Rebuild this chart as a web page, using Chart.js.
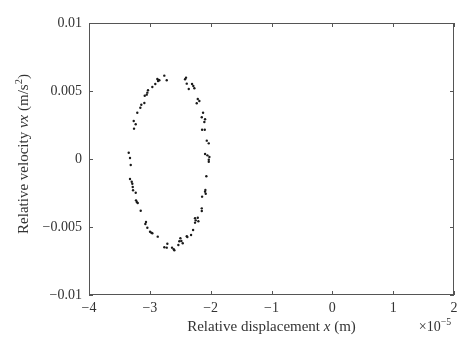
<!DOCTYPE html>
<html>
<head>
<meta charset="utf-8">
<script src="https://cdn.jsdelivr.net/npm/chart.js"></script>
<style>
  html, body { margin: 0; padding: 0; background: #fff; }
  #wrap { width: 474px; height: 353px; }
</style>
</head>
<body>
<div id="wrap"><canvas id="phaseChart" width="474" height="353"></canvas></div>
<script>
// x values are in units of 1e-5 m (axis shows x10^-5), y values in m/s
const dispX = [
  -2.762, -2.722, -2.877, -2.854, -2.844, -2.865, -2.910, -2.959, -3.030, -3.041,
  -3.051, -3.084, -3.090, -3.140, -3.156, -3.206, -3.265, -3.232, -3.260, -3.347,
  -3.326, -3.314, -3.326, -3.298, -3.288, -3.281, -3.276, -3.232, -3.227, -3.215,
  -3.199, -3.150, -3.063, -3.074, -3.041, -2.997, -2.975, -2.959, -2.870, -2.762,
  -2.722, -2.712, -2.635, -2.607, -2.597, -2.531, -2.515, -2.498, -2.482, -2.459,
  -2.393, -2.383, -2.322, -2.289, -2.257, -2.245, -2.202, -2.212, -2.257, -2.146,
  -2.146, -2.141, -2.092, -2.087, -2.081, -2.071, -2.092, -2.054, -2.021, -2.031,
  -2.031, -2.405, -2.421, -2.393, -2.306, -2.285, -2.268, -2.360, -2.212, -2.186,
  -2.229, -2.125, -2.146, -2.092, -2.104, -2.141, -2.097, -2.064, -2.031
];
const velY = [
  0.00613, 0.00579, 0.00588, 0.00581, 0.00579, 0.00574, 0.00552, 0.00529, 0.00505, 0.00488,
  0.00473, 0.00465, 0.00412, 0.00399, 0.00377, 0.00340, 0.00279, 0.00255, 0.00223, 0.00046,
  0.00007, -0.00044, -0.00147, -0.00167, -0.00182, -0.00206, -0.00230, -0.00248, -0.00304, -0.00316,
  -0.00324, -0.00380, -0.00463, -0.00478, -0.00505, -0.00535, -0.00542, -0.00546, -0.00571, -0.00649,
  -0.00652, -0.00623, -0.00652, -0.00664, -0.00671, -0.00632, -0.00605, -0.00583, -0.00603, -0.00620,
  -0.00568, -0.00574, -0.00559, -0.00522, -0.00468, -0.00451, -0.00458, -0.00432, -0.00436, -0.00363,
  -0.00382, -0.00277, -0.00240, -0.00228, -0.00255, -0.00127, 0.00037, 0.00027, 0.00015, -0.00005,
  -0.00020, 0.00598, 0.00586, 0.00554, 0.00552, 0.00537, 0.00520, 0.00515, 0.00441, 0.00427,
  0.00410, 0.00340, 0.00307, 0.00292, 0.00272, 0.00215, 0.00215, 0.00135, 0.00115
];
const xTicks = [-4, -3, -2, -1, 0, 1, 2];
const yTicks = [-0.01, -0.005, 0, 0.005, 0.01];

const SERIF = "'Liberation Serif', 'DejaVu Serif', serif";
const AXIS_COLOR = "#555";

function minus(s) {
  return s.replace("-", "\u2212");
}

// Draw a run of text pieces (plain / italic / superscript) centred at 0,0
function drawRuns(ctx, runs, size) {
  const fontFor = (r) =>
    (r.italic ? "italic " : "") + (r.sup ? size * 0.7 : size) + "px " + SERIF;
  let total = 0;
  runs.forEach((r) => {
    ctx.font = fontFor(r);
    r.w = ctx.measureText(r.t).width;
    total += r.w;
  });
  let x = -total / 2;
  ctx.textAlign = "left";
  ctx.textBaseline = "middle";
  runs.forEach((r) => {
    ctx.font = fontFor(r);
    ctx.fillText(r.t, x, r.sup ? -size * 0.35 : 0);
    x += r.w;
  });
}

const framePlugin = {
  id: "frame",
  afterDraw(chart) {
    const { ctx, chartArea: a, scales } = chart;
    ctx.save();
    ctx.strokeStyle = AXIS_COLOR;
    ctx.lineWidth = 1;
    ctx.strokeRect(a.left + 0.5, a.top + 0.5, a.right - a.left - 1, a.bottom - a.top - 1);

    // inward tick marks on all four sides
    const len = 4;
    ctx.beginPath();
    xTicks.forEach((v) => {
      const px = Math.round(scales.x.getPixelForValue(v)) + 0.5;
      ctx.moveTo(px, a.bottom);
      ctx.lineTo(px, a.bottom - len);
      ctx.moveTo(px, a.top);
      ctx.lineTo(px, a.top + len);
    });
    yTicks.forEach((v) => {
      const py = Math.round(scales.y.getPixelForValue(v)) + 0.5;
      ctx.moveTo(a.left, py);
      ctx.lineTo(a.left + len, py);
      ctx.moveTo(a.right, py);
      ctx.lineTo(a.right - len, py);
    });
    ctx.stroke();

    ctx.fillStyle = "#333";
    // x axis title
    ctx.save();
    ctx.translate((a.left + a.right) / 2, 327);
    drawRuns(ctx, [
      { t: "Relative displacement " },
      { t: "x", italic: true },
      { t: " (m)" },
    ], 15);
    ctx.restore();

    // exponent label
    ctx.save();
    ctx.translate(435, 327);
    drawRuns(ctx, [{ t: "\u00d710" }, { t: "\u22125", sup: true }], 14);
    ctx.restore();

    // y axis title
    ctx.save();
    ctx.translate(24, 154);
    ctx.rotate(-Math.PI / 2);
    drawRuns(ctx, [
      { t: "Relative velocity " },
      { t: "vx", italic: true },
      { t: " (m/s" },
      { t: "2", sup: true },
      { t: ")" },
    ], 15);
    ctx.restore();
    ctx.restore();
  },
};

const points = dispX.map((x, i) => ({ x: x, y: velY[i] }));

new Chart(document.getElementById("phaseChart"), {
  type: "scatter",
  data: {
    datasets: [
      {
        data: points,
        pointRadius: 1.2,
        pointHoverRadius: 1.2,
        pointBackgroundColor: "#1a1a1a",
        pointBorderWidth: 0,
      },
    ],
  },
  options: {
    responsive: false,
    animation: false,
    events: [],
    layout: { padding: { top: 23, right: 20, left: 0, bottom: 0 } },
    plugins: { legend: { display: false }, tooltip: { enabled: false } },
    scales: {
      x: {
        type: "linear",
        min: -4,
        max: 2,
        afterBuildTicks: (axis) => {
          axis.ticks = xTicks.map((v) => ({ value: v }));
        },
        afterFit: (axis) => {
          axis.height = 58;
        },
        grid: { display: false, drawTicks: false },
        border: { display: false },
        ticks: {
          padding: 5,
          color: "#333",
          font: { family: SERIF, size: 14 },
          callback: (v) => minus(String(v)),
        },
      },
      y: {
        type: "linear",
        min: -0.01,
        max: 0.01,
        afterBuildTicks: (axis) => {
          axis.ticks = yTicks.map((v) => ({ value: v }));
        },
        afterFit: (axis) => {
          axis.width = 89;
        },
        grid: { display: false, drawTicks: false },
        border: { display: false },
        ticks: {
          padding: 7,
          color: "#333",
          font: { family: SERIF, size: 14 },
          callback: (v) => minus(String(v)),
        },
      },
    },
  },
  plugins: [framePlugin],
});
</script>
</body>
</html>
